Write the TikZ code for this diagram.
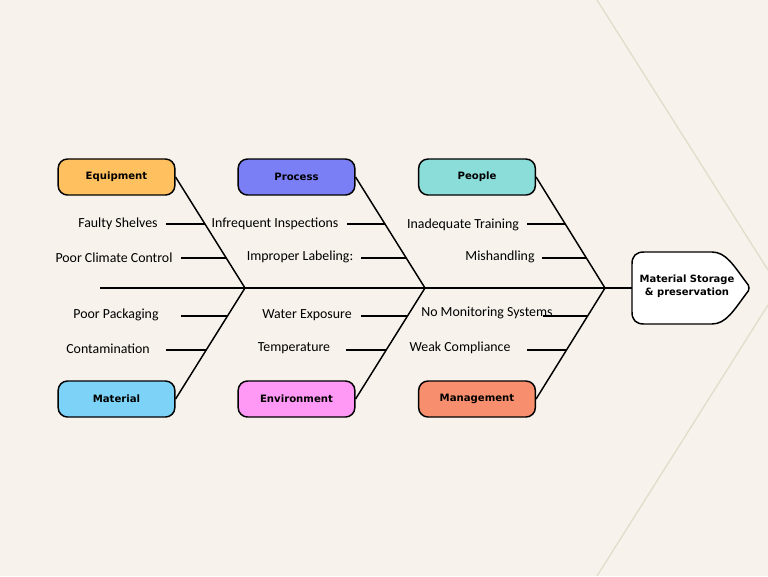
\documentclass[tikz,border=0pt]{standalone}
\usepackage{fontspec}
\setmainfont{Carlito}
\newfontfamily\boxfont{DejaVu Sans}
\usetikzlibrary{positioning}
\definecolor{paper}{HTML}{F7F3EC}
\definecolor{faint}{HTML}{E2DDCB}
\definecolor{cEquip}{HTML}{FFC060}
\definecolor{cProc}{HTML}{7B7FF5}
\definecolor{cPeople}{HTML}{8ADDD9}
\definecolor{cMat}{HTML}{7DD3F7}
\definecolor{cEnv}{HTML}{FF99F5}
\definecolor{cMgmt}{HTML}{F78F6E}
\tikzset{
  cat/.style={draw=black, line width=1.1pt, rounded corners=7pt,
    minimum width=87.5pt, minimum height=27pt, inner sep=0pt,
    font=\boxfont\bfseries\fontsize{7.6}{9}\selectfont},
  bone/.style={line width=1.1pt},
  twig/.style={line width=1pt},
  lbl/.style={font=\fontsize{10.4}{12}\selectfont, inner sep=0pt}
}
\begin{document}
\begin{tikzpicture}[x=0.75pt, y=-0.75pt]
  \fill[paper] (0,0) rectangle (768,576);
  \useasboundingbox (0,0) rectangle (768,576);
  \draw[faint, line width=1pt] (597,0) -- (768,270);
  \draw[faint, line width=1pt] (768,305) -- (597,576);

  % head
  \draw[line width=1.1pt, fill=white] (644,252) -- (712,252)
    .. controls (726,252) and (734,266) .. (746,282)
    .. controls (750,286) and (750,290) .. (746,294)
    .. controls (734,310) and (726,324) .. (712,324) -- (644,324)
    .. controls (636,324) and (632,320) .. (632,312) -- (632,264)
    .. controls (632,256) and (636,252) .. (644,252) -- cycle;
  \node[font=\boxfont\bfseries\fontsize{7.5}{10}\selectfont, align=center] (head) at (687,286)
    {Material Storage\\\& preservation};
  \coordinate (tail) at (100,288);
  \coordinate (headin) at (632,288);
  \draw[bone] (tail) -- (headin);
  \draw[line width=1.6pt] (tail) -- (122,288);

  % spine junctions
  \coordinate (j1) at (245,288);
  \coordinate (j2) at (425,288);
  \coordinate (j3) at (605,288);

  % categories
  \node[cat, fill=cEquip] (equip) at (116.5,177) {Equipment};
  \node[cat, fill=cProc] (proc) at (296.5,177) {Process};
  \node[cat, fill=cPeople] (people) at (477,177) {People};
  \node[cat, fill=cMat] (mat) at (116.5,399) {Material};
  \node[cat, fill=cEnv] (env) at (296.5,399) {Environment};
  \node[cat, fill=cMgmt] (mgmt) at (477,399) {Management};

  \draw[bone] (equip.east) -- (j1);
  \draw[bone] (proc.east) -- (j2);
  \draw[bone] (people.east) -- (j3);
  \draw[bone] (mat.east) -- (j1);
  \draw[bone] (env.east) -- (j2);
  \draw[bone] (mgmt.east) -- (j3);

  % causes, top
  \node[lbl] (shelves) at (118,224) {Faulty Shelves};
  \node[lbl] (climate) at (114,258) {Poor Climate Control};
  \node[lbl] (inspect) at (275,224) {Infrequent Inspections};
  \node[lbl] (labeling) at (300,257) {Improper Labeling:};
  \node[lbl] (training) at (463,225) {Inadequate Training};
  \node[lbl] (handling) at (500,257) {Mishandling};
  \coordinate (s1) at (166,224); \coordinate (b1) at (205,224);
  \coordinate (s2) at (181,258); \coordinate (b2) at (226,258);
  \coordinate (s3) at (347,224); \coordinate (b3) at (385,224);
  \coordinate (s4) at (361,258); \coordinate (b4) at (406,258);
  \coordinate (s5) at (527,224); \coordinate (b5) at (565,224);
  \coordinate (s6) at (542,258); \coordinate (b6) at (586,258);

  % causes, bottom
  \node[lbl] (packaging) at (116,315) {Poor Packaging};
  \node[lbl] (contam) at (108,349) {Contamination};
  \node[lbl] (water) at (307,315) {Water Exposure};
  \node[lbl] (temp) at (294,348) {Temperature};
  \node[lbl] (monitor) at (487,313) {No Monitoring Systems};
  \node[lbl] (comply) at (460,348) {Weak Compliance};
  \coordinate (s7) at (181,316); \coordinate (b7) at (227,316);
  \coordinate (s8) at (166,350); \coordinate (b8) at (206,350);
  \coordinate (s9) at (361,316); \coordinate (b9) at (407,316);
  \coordinate (s10) at (346,350); \coordinate (b10) at (386,350);
  \coordinate (s11) at (543,316); \coordinate (b11) at (587,316);
  \coordinate (s12) at (527,350); \coordinate (b12) at (566,350);

  \foreach \i in {1,...,12}
    \draw[twig] (s\i) -- (b\i);
\end{tikzpicture}
\end{document}
